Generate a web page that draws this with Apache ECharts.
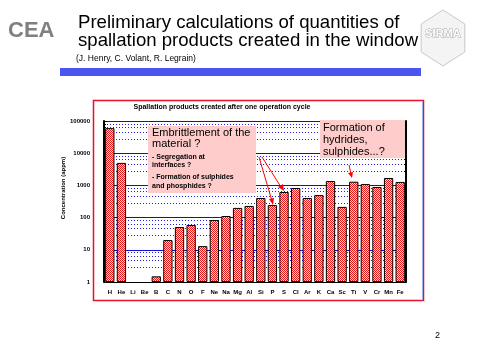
<!DOCTYPE html>
<html><head><meta charset="utf-8">
<script src="https://cdn.jsdelivr.net/npm/echarts@6/dist/echarts.min.js"></script>
<style>html,body{margin:0;padding:0;background:#fff}#c{width:480px;height:360px}</style>
</head><body><div id="c"></div>
<script>
const elements = ['H','He','Li','Be','B','C','N','O','F','Ne','Na','Mg','Al','Si','P','S','Cl','Ar','K','Ca','Sc','Ti','V','Cr','Mn','Fe'];
const concentration = [60000,5000,null,null,1.5,20,51,59,13,84,112,200,230,405,245,625,830,405,500,1370,215,1300,1100,890,1700,1280];
const yMin = 1, yMax = 100000;
const chartTitle = 'Spallation products created after one operation cycle';
const yName = 'Concentration (appm)';

// checkered red/white fill
const pc = document.createElement('canvas');
pc.width = 2; pc.height = 2;
const px = pc.getContext('2d');
px.fillStyle = '#ffdada'; px.fillRect(0,0,2,2);
px.fillStyle = '#e81818'; px.fillRect(0,0,1,1); px.fillRect(1,1,1,1);

const chart = echarts.init(document.getElementById('c'), null, {renderer:'canvas'});
const ff = 'Liberation Sans, Arial, sans-serif';
function hexPts(cx, cy, r){const p=[];for(let i=0;i<6;i++){const a=Math.PI/180*(60*i-90);p.push([cx+r*Math.cos(a)*0.9, cy+r*Math.sin(a)]);}return p;}
const G = [
    {type:'text',left:8,top:20,style:{text:'CEA',font:'bold 22px '+ff,fill:'#808080'}},
    {type:'text',left:78,top:13,style:{text:'Preliminary calculations of quantities of',font:'18.6px '+ff,fill:'#000'}},
    {type:'text',left:78,top:31,style:{text:'spallation products created in the window',font:'18.6px '+ff,fill:'#000'}},
    {type:'text',left:76,top:54,style:{text:'(J. Henry, C. Volant, R. Legrain)',font:'8.5px '+ff,fill:'#000'}},
    {type:'rect',shape:{x:60,y:68,width:361,height:8},style:{fill:'#4b56f0'}},
    {type:'polygon',shape:{points:hexPts(443,38,28)},style:{fill:'#f4f4f4',stroke:'#c8c8c8',lineWidth:1}},
    {type:'text',x:443,y:34,style:{text:'SIRMA',font:'bold 11px '+ff,fill:'#fff',stroke:'#a8a8a8',lineWidth:1,align:'center',verticalAlign:'middle'}},
    {type:'rect',shape:{x:93.5,y:100.5,width:330,height:200},style:{fill:null,stroke:'#e8102a',lineWidth:1.5}},
    {type:'line',shape:{x1:422.5,y1:102,x2:422.5,y2:300},style:{stroke:'#9fb0f0',lineWidth:1}},
    {type:'text',x:222,y:107,style:{text:chartTitle,font:'bold 7px '+ff,fill:'#000',align:'center',verticalAlign:'middle'}},
    {type:'text',x:63,y:188,rotation:Math.PI/2,style:{text:yName,font:'bold 6px '+ff,fill:'#000',align:'center',verticalAlign:'middle'}},
    {type:'rect',shape:{x:148,y:126,width:108,height:67},style:{fill:'#ffcccc'}},
    {type:'text',left:152,top:127,style:{text:'Embrittlement of the\nmaterial ?',font:'11px '+ff,lineHeight:11,fill:'#000'}},
    {type:'text',left:152,top:153,style:{text:'- Segregation at\ninterfaces ?',font:'bold 7px '+ff,lineHeight:8,fill:'#000'}},
    {type:'text',left:152,top:173,style:{text:'- Formation of sulphides\nand phosphides ?',font:'bold 7px '+ff,lineHeight:9,fill:'#000'}},
    {type:'rect',shape:{x:320,y:120,width:85,height:38},style:{fill:'#ffcccc'}},
    {type:'text',left:323,top:122,style:{text:'Formation of\nhydrides,\nsulphides...?',font:'11px '+ff,lineHeight:12,fill:'#000'}},
    {type:'line',shape:{x1:259,y1:157,x2:272,y2:201},style:{stroke:'#ff0000',lineWidth:1}},
    {type:'polygon',shape:{points:[[273,205],[269,199],[274,198]]},style:{fill:'#ff0000'}},
    {type:'line',shape:{x1:262,y1:157,x2:281,y2:187},style:{stroke:'#ff0000',lineWidth:1}},
    {type:'polygon',shape:{points:[[284,191],[278,187],[283,184]]},style:{fill:'#ff0000'}},
    {type:'line',shape:{x1:349,y1:165,x2:351,y2:174},style:{stroke:'#ff0000',lineWidth:1}},
    {type:'polygon',shape:{points:[[352,178],[348,173],[353,172]]},style:{fill:'#ff0000'}},
    {type:'text',left:435,top:331,style:{text:'2',font:'9px '+ff,fill:'#000'}}
];
G.forEach(g=>{g.z=100;});
chart.setOption({
  animation:false,
  backgroundColor:'#fff',
  grid:{left:104,right:74,top:121,bottom:78},
  xAxis:{type:'category',data:elements,
    axisLine:{lineStyle:{color:'#000',width:1}},axisTick:{show:false},
    axisLabel:{interval:0,fontSize:6,fontWeight:'bold',color:'#000',margin:7,fontFamily:ff}},
  yAxis:[{type:'log',min:yMin,max:yMax,logBase:10,
    axisLine:{show:true,lineStyle:{color:'#000',width:2}},
    axisTick:{show:true,inside:true,length:3,lineStyle:{color:'#000'}},
    minorTick:{show:true,splitNumber:5,length:2,lineStyle:{color:'#000'}},
    axisLabel:{fontSize:6,fontWeight:'bold',color:'#000',margin:14,fontFamily:ff,formatter:v=>String(Math.round(v))},
    splitLine:{show:true,lineStyle:{color:'#1010d0',width:1}},
    minorSplitLine:{show:true,lineStyle:{color:'#2020e0',width:1,type:[1,2]}}},
   {type:'log',min:yMin,max:yMax,logBase:10,position:'right',
    axisLine:{show:true,lineStyle:{color:'#000',width:2}},
    axisTick:{show:true,inside:true,length:3,lineStyle:{color:'#000'}},
    minorTick:{show:true,splitNumber:5,length:2,lineStyle:{color:'#000'}},
    axisLabel:{show:false},splitLine:{show:false}}],
  series:[{type:'bar',data:concentration,barWidth:'80%',
    itemStyle:{color:{image:pc,repeat:'repeat'},borderColor:'#000',borderWidth:1}}],
  graphic:G
});
</script></body></html>
